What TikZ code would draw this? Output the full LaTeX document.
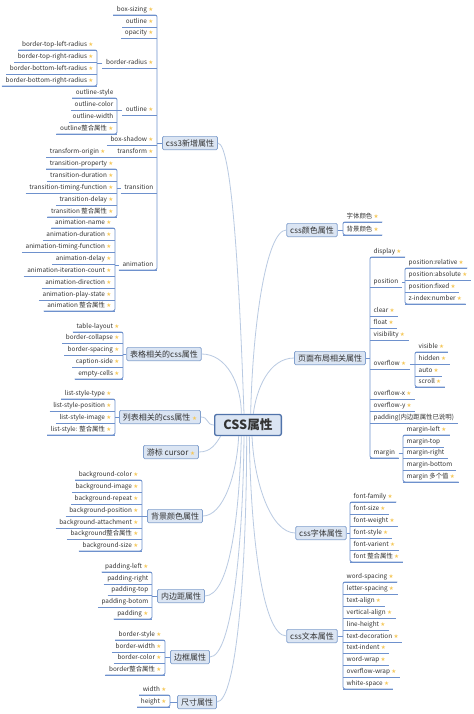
\documentclass[tikz,border=0pt]{standalone}
\usepackage{fontspec}
\setmainfont{Noto Sans CJK SC}
\newfontfamily\symf{DejaVu Sans}

\definecolor{ink}{RGB}{51,51,51}
\definecolor{bfill}{RGB}{219,229,243}
\definecolor{bbd}{RGB}{130,160,205}
\definecolor{rbd}{RGB}{80,115,170}
\definecolor{ulc}{RGB}{110,145,205}
\definecolor{linkc}{RGB}{185,202,226}
\definecolor{icony}{RGB}{245,200,90}

\newcommand\ico{\hspace{0.2em}{\symf\fontsize{4.2}{4.5}\selectfont\color{icony}★}}

\tikzset{every picture/.style={line width=0.75pt}}
\tikzset{
  under/.style={draw=ulc, line width=0.6pt},
  link/.style={draw=linkc, line width=0.6pt},
  leaf/.style={font=\fontsize{4.8}{6}\selectfont, text=ink, inner xsep=2.4pt, inner ysep=0.6pt,
    text height=4pt, text depth=1.4pt,
    append after command={(\tikzlastnode.south west) edge[under] (\tikzlastnode.south east)}},
  lf/.style={leaf, anchor=east},
  rt/.style={leaf, anchor=west},
  branch/.style={draw=bbd, fill=bfill, rounded corners=1pt, line width=0.5pt, text=ink,
    font=\fontsize{6}{7}\selectfont, inner xsep=2.6pt, inner ysep=0pt, minimum height=10pt},
  root/.style={draw=rbd, fill=bfill, rounded corners=1.5pt, line width=1pt, text=ink,
    font=\fontsize{9.5}{11}\selectfont\bfseries, minimum width=50pt, minimum height=15.5pt},
}

\begin{document}
\begin{tikzpicture}[x=0.75pt,y=0.75pt,yscale=-1,xscale=1]
\path [use as bounding box] (0,0) rectangle (474,714);
\fill [white] (0,0) rectangle (474,714);

% Root
\draw (248,425) node [root] (css) {CSS属性};

% Main branches, left
\draw (190,143) node [branch] (css3) {css3新增属性};
\draw (164,354) node [branch] (tbl) {表格相关的css属性};
\draw (160,417) node [branch] (lst) {列表相关的css属性\ico};
\draw (171,452) node [branch] (cur) {游标 cursor\ico};
\draw (175,516) node [branch] (bgd) {背景颜色属性};
\draw (181,596) node [branch] (pdg) {内边距属性};
\draw (190,657) node [branch] (bdr) {边框属性};
\draw (197,702) node [branch] (siz) {尺寸属性};
% Main branches, right
\draw (312,230) node [branch] (col) {css颜色属性};
\draw (330,358) node [branch] (lay) {页面布局相关属性};
\draw (321,533) node [branch] (fnt) {css字体属性};
\draw (312,636) node [branch] (txa) {css文本属性};

% css3
\draw (157,10) node [lf] (bsz) {box-sizing\ico};
\draw (157,22) node [lf] (ol1) {outline\ico};
\draw (157,33) node [lf] (opa) {opacity\ico};
\draw (157,63) node [lf] (brad) {border-radius\ico};
\draw (157,110) node [lf] (ol2) {outline\ico};
\draw (157,140) node [lf] (bsh) {box-shadow\ico};
\draw (157,152) node [lf] (tfm) {transform\ico};
\draw (157,188) node [lf] (trn) {transition};
\draw (157,265) node [lf] (ani) {animation};
% border-radius
\draw (97,45) node [lf] (btl) {border-top-left-radius\ico};
\draw (97,57) node [lf] (btr) {border-top-right-radius\ico};
\draw (97,69) node [lf] (bbl) {border-bottom-left-radius\ico};
\draw (97,81) node [lf] (bbr) {border-bottom-right-radius\ico};
% outline
\draw (117,93) node [lf] (ost) {outline-style};
\draw (117,105) node [lf] (oco) {outline-color};
\draw (117,117) node [lf] (owd) {outline-width};
\draw (117,129) node [lf] (oall) {outline整合属性\ico};
% transform
\draw (109,152) node [lf] (tor) {transform-origin\ico};
% transition
\draw (117,164) node [lf] (tpr) {transition-property\ico};
\draw (117,176) node [lf] (tdu) {transition-duration\ico};
\draw (117,188) node [lf] (ttf) {transition-timing-function\ico};
\draw (117,200) node [lf] (tde) {transition-delay\ico};
\draw (117,212) node [lf] (tall) {transition 整合属性\ico};
% animation
\draw (115,223) node [lf] (anm) {animation-name\ico};
\draw (115,235) node [lf] (adu) {animation-duration\ico};
\draw (115,247) node [lf] (atf) {animation-timing-function\ico};
\draw (115,259) node [lf] (ade) {animation-delay\ico};
\draw (115,271) node [lf] (aic) {animation-iteration-count\ico};
\draw (115,283) node [lf] (adi) {animation-direction\ico};
\draw (115,295) node [lf] (aps) {animation-play-state\ico};
\draw (115,306) node [lf] (aall) {animation 整合属性\ico};

% table
\draw (123,327) node [lf] (tly) {table-layout\ico};
\draw (123,338) node [lf] (bcl) {border-collapse\ico};
\draw (123,350) node [lf] (bsp) {border-spacing\ico};
\draw (123,362) node [lf] (cps) {caption-side\ico};
\draw (123,374) node [lf] (emc) {empty-cells\ico};
% list
\draw (115,394) node [lf] (lsty) {list-style-type\ico};
\draw (115,406) node [lf] (lspo) {list-style-position\ico};
\draw (115,418) node [lf] (lsim) {list-style-image\ico};
\draw (115,430) node [lf] (lsal) {list-style: 整合属性\ico};
% background
\draw (142,475) node [lf] (bgc) {background-color\ico};
\draw (142,487) node [lf] (bgi) {background-image\ico};
\draw (142,499) node [lf] (bgr) {background-repeat\ico};
\draw (142,511) node [lf] (bgp) {background-position\ico};
\draw (142,523) node [lf] (bga) {background-attachment\ico};
\draw (142,534) node [lf] (bgall) {background整合属性\ico};
\draw (142,546) node [lf] (bgs) {background-size\ico};
% padding
\draw (152,567) node [lf] (pdl) {padding-left\ico};
\draw (152,579) node [lf] (pdr) {padding-right};
\draw (152,590) node [lf] (pdt) {padding-top};
\draw (152,602) node [lf] (pdb) {padding-botom};
\draw (152,614) node [lf] (pdd) {padding\ico};
% border
\draw (165,635) node [lf] (bst) {border-style\ico};
\draw (165,647) node [lf] (bwd) {border-width\ico};
\draw (165,658) node [lf] (bco) {border-color\ico};
\draw (165,670) node [lf] (ball) {border整合属性\ico};
% size
\draw (170,690) node [lf] (wid) {width\ico};
\draw (170,702) node [lf] (hei) {height\ico};

% colour
\draw (343,217) node [rt] (fcol) {字体颜色\ico};
\draw (343,230) node [rt] (bcol) {背景颜色\ico};
% layout
\draw (370,252) node [rt] (dsp) {display\ico};
\draw (370,282) node [rt] (pos) {position};
\draw (370,311) node [rt] (clr) {clear\ico};
\draw (370,323) node [rt] (flt) {float\ico};
\draw (370,335) node [rt] (vis) {visibility\ico};
\draw (370,364) node [rt] (ovf) {overflow\ico};
\draw (370,394) node [rt] (ovx) {overflow-x\ico};
\draw (370,406) node [rt] (ovy) {overflow-y\ico};
\draw (370,418) node [rt] (pad) {padding(内边距属性已说明)};
\draw (370,453) node [rt] (mar) {margin};
% position
\draw (405,263) node [rt] (prel) {position:relative\ico};
\draw (405,275) node [rt] (pabs) {position:absolute\ico};
\draw (405,287) node [rt] (pfix) {position:fixed\ico};
\draw (405,299) node [rt] (pz) {z-index:number\ico};
% overflow
\draw (415,347) node [rt] (vv) {visible\ico};
\draw (415,359) node [rt] (hh) {hidden\ico};
\draw (415,371) node [rt] (au) {auto\ico};
\draw (415,382) node [rt] (sc) {scroll\ico};
% margin
\draw (403,430) node [rt] (ml) {margin-left\ico};
\draw (403,442) node [rt] (mt) {margin-top};
\draw (403,453) node [rt] (mr) {margin-right};
\draw (403,465) node [rt] (mb) {margin-bottom};
\draw (403,477) node [rt] (mall) {margin 多个值\ico};
% font
\draw (350,497) node [rt] (ffa) {font-family\ico};
\draw (350,509) node [rt] (fsz) {font-size\ico};
\draw (350,521) node [rt] (fwt) {font-weight\ico};
\draw (350,533) node [rt] (fst) {font-style\ico};
\draw (350,545) node [rt] (fvr) {font-varient\ico};
\draw (350,557) node [rt] (fall) {font 整合属性\ico};
% text
\draw (343,577) node [rt] (wsp) {word-spacing\ico};
\draw (343,589) node [rt] (lsp) {letter-spacing\ico};
\draw (343,601) node [rt] (tal) {text-align\ico};
\draw (343,613) node [rt] (val) {vertical-align\ico};
\draw (343,625) node [rt] (lhe) {line-height\ico};
\draw (343,637) node [rt] (tdc) {text-decoration\ico};
\draw (343,648) node [rt] (tin) {text-indent\ico};
\draw (343,660) node [rt] (wwr) {word-wrap\ico};
\draw (343,672) node [rt] (owr) {overflow-wrap\ico};
\draw (343,684) node [rt] (wsc) {white-space\ico};

% Brackets, left side
\draw [under, rounded corners=1.5pt] (bsz.south west) -- (bsz.south east) -- (ani.south east) -- (ani.south west);
\draw [under] (css3.west) -- (css3.west -| bsz.east);
\draw [under, rounded corners=1.5pt] (btl.south west) -- (btl.south east) -- (bbr.south east) -- (bbr.south west);
\draw [under] (brad.west) -- (brad.west -| btl.east);
\draw [under, rounded corners=1.5pt] (ost.south west) -- (ost.south east) -- (oall.south east) -- (oall.south west);
\draw [under] (ol2.west) -- (ol2.west -| ost.east);
\draw [under] (tor.south east) -- (tfm.south west);
\draw [under, rounded corners=1.5pt] (tpr.south west) -- (tpr.south east) -- (tall.south east) -- (tall.south west);
\draw [under] (trn.west) -- (trn.west -| tpr.east);
\draw [under, rounded corners=1.5pt] (anm.south west) -- (anm.south east) -- (aall.south east) -- (aall.south west);
\draw [under] (ani.west) -- (ani.west -| anm.east);
\draw [under, rounded corners=1.5pt] (tly.south west) -- (tly.south east) -- (emc.south east) -- (emc.south west);
\draw [under] (tbl.west) -- (tbl.west -| tly.east);
\draw [under, rounded corners=1.5pt] (lsty.south west) -- (lsty.south east) -- (lsal.south east) -- (lsal.south west);
\draw [under] (lst.west) -- (lst.west -| lsty.east);
\draw [under, rounded corners=1.5pt] (bgc.south west) -- (bgc.south east) -- (bgs.south east) -- (bgs.south west);
\draw [under] (bgd.west) -- (bgd.west -| bgc.east);
\draw [under, rounded corners=1.5pt] (pdl.south west) -- (pdl.south east) -- (pdd.south east) -- (pdd.south west);
\draw [under] (pdg.west) -- (pdg.west -| pdl.east);
\draw [under, rounded corners=1.5pt] (bst.south west) -- (bst.south east) -- (ball.south east) -- (ball.south west);
\draw [under] (bdr.west) -- (bdr.west -| bst.east);
\draw [under, rounded corners=1.5pt] (wid.south west) -- (wid.south east) -- (hei.south east) -- (hei.south west);
\draw [under] (siz.west) -- (siz.west -| wid.east);

% Brackets, right side
\draw [under, rounded corners=1.5pt] (fcol.south east) -- (fcol.south west) -- (bcol.south west) -- (bcol.south east);
\draw [under] (col.east) -- (col.east -| fcol.west);
\draw [under, rounded corners=1.5pt] (dsp.south east) -- (dsp.south west) -- (mar.south west) -- (mar.south east);
\draw [under] (lay.east) -- (lay.east -| dsp.west);
\draw [under, rounded corners=1.5pt] (prel.south east) -- (prel.south west) -- (pz.south west) -- (pz.south east);
\draw [under] (pos.east) -- (pos.east -| prel.west);
\draw [under, rounded corners=1.5pt] (vv.south east) -- (vv.south west) -- (sc.south west) -- (sc.south east);
\draw [under] (ovf.east) -- (ovf.east -| vv.west);
\draw [under, rounded corners=1.5pt] (ml.south east) -- (ml.south west) -- (mall.south west) -- (mall.south east);
\draw [under] (mar.east) -- (mar.east -| ml.west);
\draw [under, rounded corners=1.5pt] (ffa.south east) -- (ffa.south west) -- (fall.south west) -- (fall.south east);
\draw [under] (fnt.east) -- (fnt.east -| ffa.west);
\draw [under, rounded corners=1.5pt] (wsp.south east) -- (wsp.south west) -- (wsc.south west) -- (wsc.south east);
\draw [under] (txa.east) -- (txa.east -| wsp.west);

% Links to root
\draw [link] (css3.east) .. controls +(15,0) and +(-4,-115) .. ([xshift=-3pt]css.north);
\draw [link] (tbl.east) .. controls +(25,0) and +(0,-30) .. ([xshift=-5pt]css.north);
\draw [link] (lst.east) .. controls +(8,0) and +(-8,0) .. (css.west);
\draw [link] (cur.east) .. controls +(12,0) and +(-5,8) .. ([xshift=5pt]css.south west);
\draw [link] (bgd.east) .. controls +(20,0) and +(-2,40) .. ([xshift=-7pt]css.south);
\draw [link] (pdg.east) .. controls +(25,0) and +(-2,80) .. ([xshift=-5pt]css.south);
\draw [link] (bdr.east) .. controls +(22,0) and +(-1,110) .. ([xshift=-3pt]css.south);
\draw [link] (siz.east) .. controls +(20,0) and +(0,130) .. ([xshift=-1pt]css.south);
\draw [link] (col.west) .. controls +(-20,0) and +(2,-90) .. ([xshift=2pt]css.north);
\draw [link] (lay.west) .. controls +(-25,0) and +(3,-25) .. ([xshift=4pt]css.north);
\draw [link] (fnt.west) .. controls +(-25,0) and +(2,45) .. ([xshift=3pt]css.south);
\draw [link] (txa.west) .. controls +(-25,0) and +(1,90) .. ([xshift=1pt]css.south);

\end{tikzpicture}
\end{document}
